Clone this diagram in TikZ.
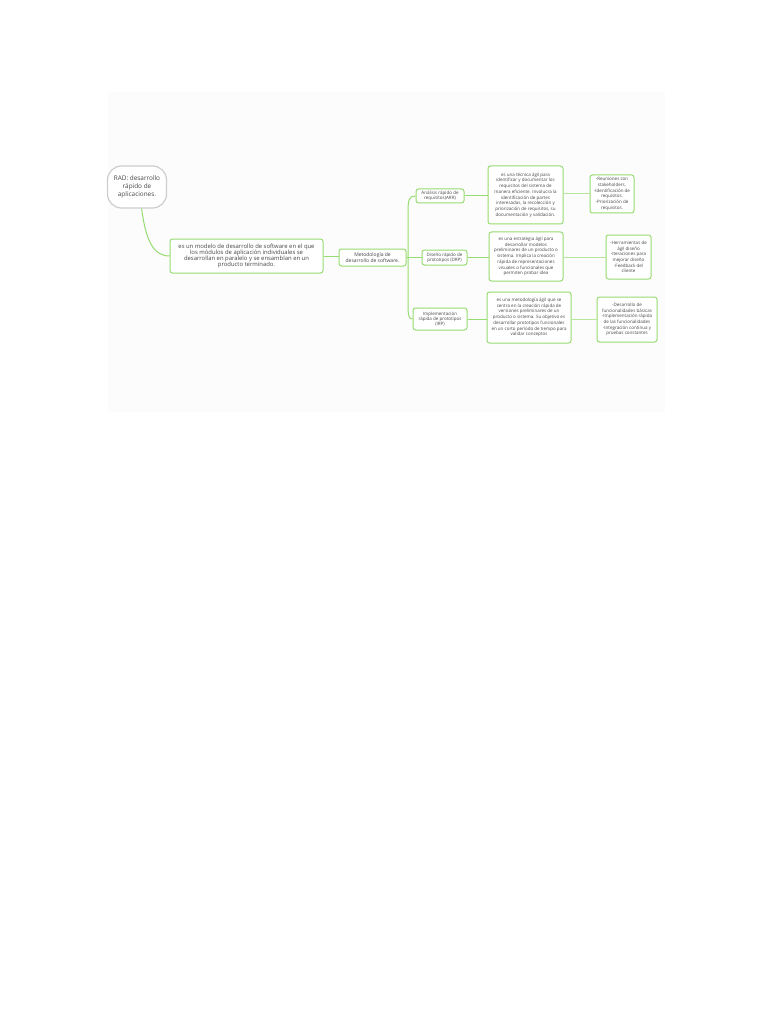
\documentclass[tikz,border=0pt]{standalone}
\usepackage{fontspec}
\setmainfont{Open Sans}
\usetikzlibrary{calc}
\definecolor{mapgreen}{RGB}{150,220,112}
\definecolor{maptext}{RGB}{70,70,70}
\definecolor{mapgray}{RGB}{205,205,205}

\begin{document}
\begin{tikzpicture}[x=1pt, y=-1pt,
	box/.style={draw=mapgreen, line width=1pt, rounded corners=2.5pt, fill=white,
		text=maptext, align=center, inner sep=1pt},
	link/.style={draw=mapgreen, line width=1pt},
	small/.style={font=\fontsize{4.5}{5.7}\selectfont}]
	\useasboundingbox (0,0) rectangle (768,1024);
	\fill [gray!2] (108,92) rectangle (665,412);

	\node [box, draw=mapgray, line width=1.2pt, rounded corners=14pt, minimum width=59pt, minimum height=42pt,
		font=\fontsize{6.4}{7.7}\selectfont] (root) at (137,187)
		{RAD: desarrollo\\ rápido de\\ aplicaciones.};
	\node [box, minimum width=153pt, minimum height=34pt, font=\fontsize{5.9}{6.1}\selectfont]
		(def) at (246.5,256) {es un modelo de desarrollo de software en el que\\ los módulos de aplicación individuales se\\ desarrollan en paralelo y se ensamblan en un\\ producto terminado.};
	\node [box, minimum width=67pt, minimum height=17pt, font=\fontsize{5}{5.8}\selectfont]
		(meto) at (372.5,257.5) {Metodología de\\ desarrollo de software.};

	\node [box, minimum width=48pt, minimum height=14pt, font=\fontsize{4.5}{5.1}\selectfont]
		(anal) at (440,196) {Análisis rápido de\\ requisitos(ARR)};
	\node [box, minimum width=45pt, minimum height=15pt, font=\fontsize{4.5}{5.1}\selectfont]
		(dise) at (444.5,257.5) {Diseño rápido de\\ prototipos (DRP)};
	\node [box, minimum width=54pt, minimum height=22pt, font=\fontsize{4.5}{5.1}\selectfont]
		(impl) at (440,319) {Implementación\\ rápida de prototipos\\ (IRP)};

	\node [box, small, minimum width=75pt, minimum height=58pt] (arrdesc) at (525.5,195)
		{es una técnica ágil para\\ identificar y documentar los\\ requisitos del sistema de\\ manera eficiente. Involucra la\\ identificación de partes\\ interesadas, la recolección y\\ priorización de requisitos, su\\ documentación y validación.};
	\node [box, small, minimum width=44pt, minimum height=38pt] (arrlist) at (612,194)
		{-Reuniones con\\ stakeholders.\\ -Identificación de\\ requisitos.\\ -Priorización de\\ requisitos.};
	\node [box, small, minimum width=74pt, minimum height=49pt] (drpdesc) at (526,256.5)
		{es una estrategia ágil para\\ desarrollar modelos\\ preliminares de un producto o\\ sistema. Implica la creación\\ rápida de representaciones\\ visuales o funcionales que\\ permiten probar idea};
	\node [box, small, minimum width=45pt, minimum height=44pt] (drplist) at (628.5,257)
		{-Herramientas de\\ ágil diseño\\ -Iteraciones para\\ mejorar diseño\\ -Feedback del\\ cliente};
	\node [box, small, minimum width=84pt, minimum height=51pt] (irpdesc) at (529,317.5)
		{es una metodología ágil que se\\ centra en la creación rápida de\\ versiones preliminares de un\\ producto o sistema. Su objetivo es\\ desarrollar prototipos funcionales\\ en un corto período de tiempo para\\ validar conceptos};
	\node [box, small, minimum width=60pt, minimum height=45pt] (irplist) at (627,319.5)
		{-Desarrollo de\\ funcionalidades básicas\\ -Implementación rápida\\ de las funcionalidades\\ -Integración continua y\\ pruebas constantes};

	% ramas
	\coordinate (fork) at (408,257.5);
	\draw [link] (root.-78) .. controls (146,242) and (154,256) .. (def.west);
	\draw [link] (def.east) -- (def.east -| meto.west);
	\draw [link] (meto.east) -- (fork) -- (dise.west);
	\draw [link] (fork) -- (408,212) .. controls (408,200) and (409,196) .. (anal.west);
	\draw [link] (fork) -- (408,304) .. controls (408,316) and (409,319) .. (impl.west);
	\draw [link] (anal.east) -- (anal.east -| arrdesc.west);
	\draw [link] (dise.east) -- (dise.east -| drpdesc.west);
	\draw [link] (impl.east) -- (impl.east -| irpdesc.west);
	\draw [link, mapgreen!70] (arrdesc.east |- arrlist.west) -- (arrlist.west);
	\draw [link, mapgreen!70] (drpdesc.east |- drplist.west) -- (drplist.west);
	\draw [link, mapgreen!70] (irpdesc.east |- irplist.west) -- (irplist.west);
\end{tikzpicture}
\end{document}
